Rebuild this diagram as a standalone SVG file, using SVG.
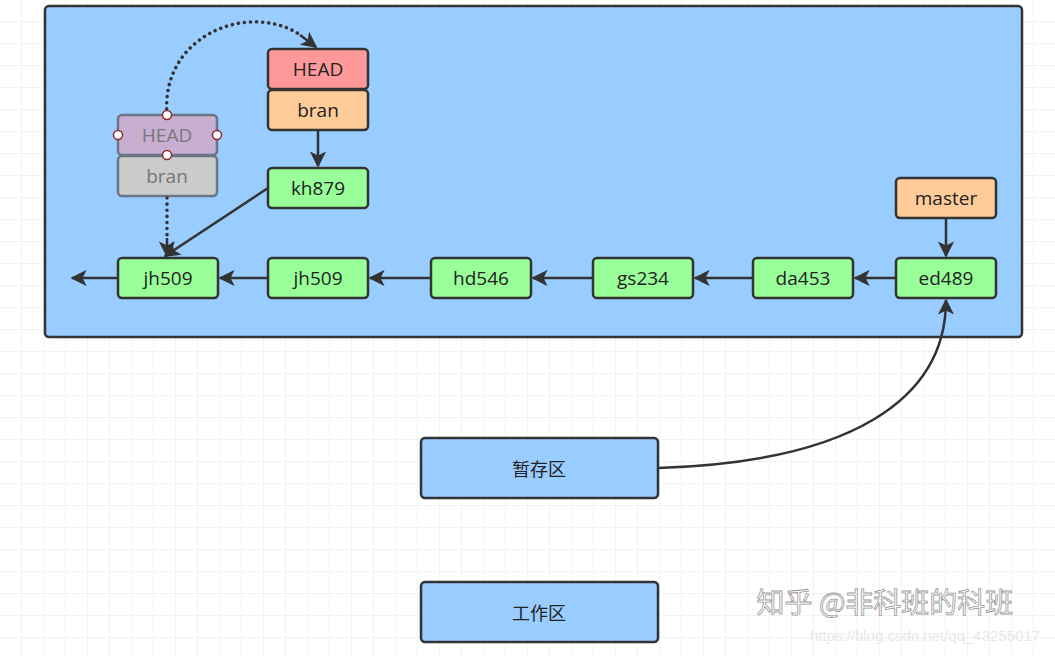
<svg xmlns="http://www.w3.org/2000/svg" width="1055" height="656" viewBox="0 0 1055 656">
<defs>
<pattern id="grid" width="22" height="22" patternUnits="userSpaceOnUse"><path d="M22 0V22H0" fill="none" stroke="#e6e6e6" stroke-width="1"/></pattern>
<marker id="ar" viewBox="0 0 10 10" refX="9" refY="5" markerWidth="6.5" markerHeight="6.5" orient="auto"><path d="M0 0L10 5L0 10L2.5 5z" fill="#333"/></marker>
</defs>
<style>
.n{stroke:#333;stroke-width:2.5}
.g{fill:#99ff99}
.t{font-family:"Open Sans","Liberation Sans",sans-serif;font-size:19px;fill:#222;text-anchor:middle;dominant-baseline:central}
.c{font-family:"Noto Sans CJK SC",sans-serif;font-size:18px;fill:#222;text-anchor:middle;dominant-baseline:central}
.l{fill:none;stroke:#333;stroke-width:2.5}
.d{stroke-dasharray:0.1 6;stroke-linecap:round;stroke-width:3.5}
.h{fill:#fff;stroke:#8b2a2a;stroke-width:1.5}
</style>
<rect width="1055" height="656" fill="#fff"/>
<rect width="1055" height="656" fill="url(#grid)"/>
<g id="container"><rect x="45" y="6" width="977" height="331" rx="4" fill="#99ccff" stroke="#333" stroke-width="2.5"/></g>
<g id="head"><rect class="n" x="268" y="49" width="100" height="40" rx="4" fill="#ff9999"/><text class="t" x="318" y="69">HEAD</text></g>
<g id="bran"><rect class="n" x="268" y="90" width="100" height="40" rx="4" fill="#ffcc99"/><text class="t" x="318" y="110">bran</text></g>
<g id="oldhead"><rect x="118" y="115" width="99" height="40" rx="4" fill="#c8aed0" stroke="#6a7585" stroke-width="2.5"/><text class="t" x="167" y="135" style="fill:#777">HEAD</text></g>
<g id="oldbran"><rect x="118" y="156" width="99" height="40" rx="4" fill="#cccccc" stroke="#6a7585" stroke-width="2.5"/><text class="t" x="167" y="176" style="fill:#777">bran</text></g>
<g id="kh879"><rect class="n g" x="268" y="168" width="100" height="40" rx="4"/><text class="t" x="318" y="188">kh879</text></g>
<g id="master"><rect class="n" x="896" y="178" width="100" height="40" rx="4" fill="#ffcc99"/><text class="t" x="946" y="198">master</text></g>
<g id="jh509a"><rect class="n g" x="118" y="258" width="100" height="40" rx="4"/><text class="t" x="168" y="278">jh509</text></g>
<g id="jh509b"><rect class="n g" x="268" y="258" width="100" height="40" rx="4"/><text class="t" x="318" y="278">jh509</text></g>
<g id="hd546"><rect class="n g" x="431" y="258" width="100" height="40" rx="4"/><text class="t" x="481" y="278">hd546</text></g>
<g id="gs234"><rect class="n g" x="593" y="258" width="100" height="40" rx="4"/><text class="t" x="643" y="278">gs234</text></g>
<g id="da453"><rect class="n g" x="753" y="258" width="100" height="40" rx="4"/><text class="t" x="803" y="278">da453</text></g>
<g id="ed489"><rect class="n g" x="896" y="258" width="100" height="40" rx="4"/><text class="t" x="946" y="278">ed489</text></g>
<g id="stage"><rect class="n" x="421" y="438" width="237" height="60" rx="4" fill="#99ccff"/><text class="c" x="539" y="468">暂存区</text></g>
<g id="work"><rect class="n" x="421" y="582" width="237" height="60" rx="4" fill="#99ccff"/><text class="c" x="539" y="612">工作区</text></g>
<g id="connectors">
<path class="l" d="M118 278H72" marker-end="url(#ar)"/>
<path class="l" d="M268 278H220" marker-end="url(#ar)"/>
<path class="l" d="M431 278H370" marker-end="url(#ar)"/>
<path class="l" d="M593 278H533" marker-end="url(#ar)"/>
<path class="l" d="M753 278H695" marker-end="url(#ar)"/>
<path class="l" d="M896 278H855" marker-end="url(#ar)"/>
<path class="l" d="M946 218V256" marker-end="url(#ar)"/>
<path class="l" d="M318 130V166" marker-end="url(#ar)"/>
<path class="l" d="M268 188L165 256" marker-end="url(#ar)"/>
<path class="l" d="M658 468C850 462 946 400 946 300" marker-end="url(#ar)"/>
<path class="l d" d="M167 198V240"/>
<path class="l" d="M167 238V256" marker-end="url(#ar)"/>
<path class="l d" d="M167 115C160 35 250 0 302 36"/>
<path class="l" d="M300 35L316 47" marker-end="url(#ar)"/>
</g>
<g id="handles"><circle class="h" cx="167" cy="115" r="4.5"/><circle class="h" cx="167" cy="155" r="4.5"/><circle class="h" cx="118" cy="135" r="4.5"/><circle class="h" cx="217" cy="135" r="4.5"/></g>
<text x="885" y="613" font-family="Noto Sans CJK SC,sans-serif" font-size="28" fill="#fff" stroke="#999" stroke-width="0.8" text-anchor="middle">知乎 @非科班的科班</text>
<text x="925" y="641" font-family="Liberation Sans,sans-serif" font-size="15" fill="#e8e8e8" text-anchor="middle">https://blog.csdn.net/qq_43255017</text>
</svg>
